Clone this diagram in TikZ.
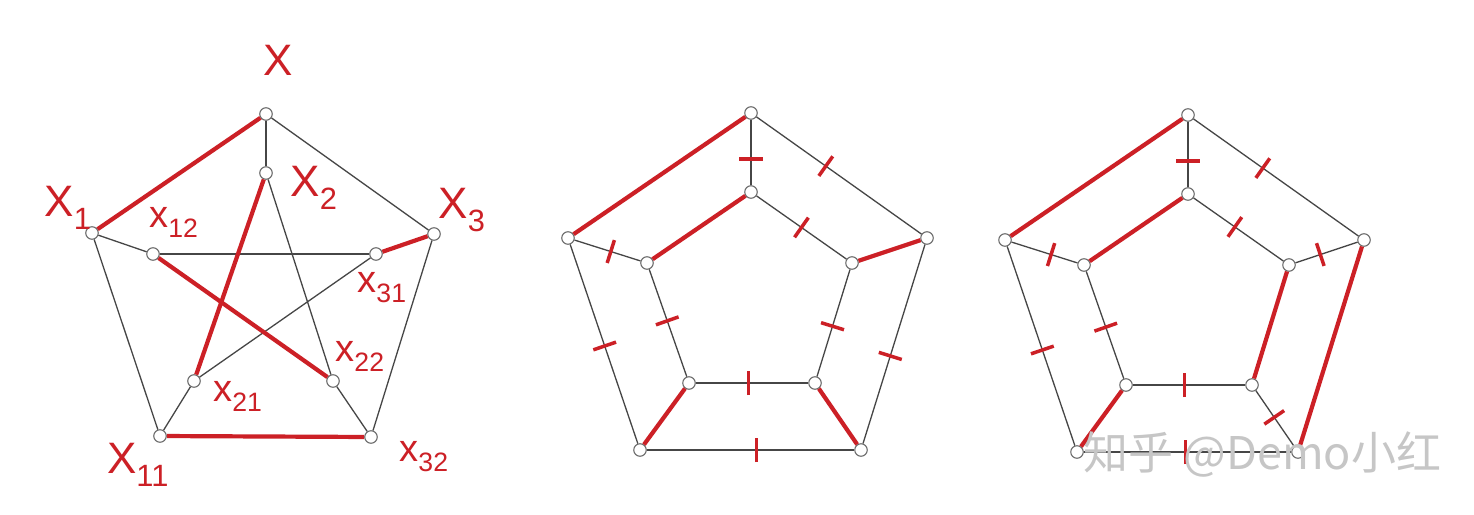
\documentclass[tikz,border=0pt]{standalone}
\usepackage{fontspec}
\setsansfont{Liberation Sans}
\newfontfamily\cjk{Noto Sans CJK SC}
\usetikzlibrary{decorations.markings}
\definecolor{hand}{RGB}{204,32,38}
\definecolor{edge}{RGB}{70,70,70}

\begin{document}
\begin{tikzpicture}[x=1pt, y=-1pt,
  vtx/.style={circle, draw=edge!80, fill=white, line width=1.1pt, minimum size=12.5pt, inner sep=0pt},
  blk/.style={draw=edge, line width=1.3pt},
  hit/.style={draw=hand, line width=4.2pt},
  ticked/.style={postaction={decorate, decoration={markings,
    mark=at position #1 with {\draw[hand, line width=3.5pt] (0,-12pt) -- (0,12pt);}}}},
  ticked/.default=0.5,
  lab/.style={text=hand, font=\sffamily\fontsize{44}{46}\selectfont},
  sublab/.style={text=hand, font=\sffamily\fontsize{38}{40}\selectfont}]
 \fill[white] (0,0) rectangle (1474,514);
 \useasboundingbox (0,0) rectangle (1474,514);
 \foreach \n/\x/\y in {X/266/114, X1/92/233, X3/434/234, X11/160/436, X32/371/437,
   X2/266/173, X12/153/254, X31/376/254, X21/194/381, X22/333/381}
   \node[vtx] (\n) at (\x,\y) {};
 \foreach \a/\b in {X/X3, X1/X11, X3/X32, X/X2, X1/X12, X11/X21, X32/X22,
   X2/X22, X12/X31, X21/X31}
   \draw[blk] (\a) -- (\b);
 \foreach \a/\b in {X/X1, X3/X31, X11/X32, X2/X21, X12/X22}
   \draw[hit] (\a) -- (\b);
 \node[lab] (lX) at (278,60) {X};
 \node[lab] (lX1) at (68,208) {X\textsubscript{1}};
 \node[lab] (lX2) at (314,188) {X\textsubscript{2}};
 \node[lab] (lX3) at (462,210) {X\textsubscript{3}};
 \node[lab] (lX11) at (138,465) {X\textsubscript{11}};
 \node[sublab] (lX12) at (174,222) {x\textsubscript{12}};
 \node[sublab] (lX31) at (382,288) {x\textsubscript{31}};
 \node[sublab] (lX22) at (360,356) {x\textsubscript{22}};
 \node[sublab] (lX21) at (238,396) {x\textsubscript{21}};
 \node[sublab] (lX32) at (424,457) {x\textsubscript{32}};
 \foreach \g/\dx/\dy in {p/0/0, q/437/2}
   \foreach \n/\x/\y in {o1/751/113, o2/927/238, o3/861/450, o4/640/450, o5/568/238,
     i1/751/192, i2/852/263, i3/815/383, i4/689/383, i5/647/263}
     \node[vtx] (\g\n) at ({\x+\dx},{\y+\dy}) {};
 \foreach \a/\b/\t in {o1/i1/0.6, o1/o2/0.42, i1/i2/0.5, o5/i5/0.55, i5/i4/0.48,
   o5/o4/0.51, i4/i3/0.47, o4/o3/0.53, i2/i3/0.53, o2/o3/0.56}
   \draw[blk, ticked=\t] (p\a) -- (p\b);
 \foreach \a/\b in {o1/o5, i1/i5, i2/o2, i4/o4, i3/o3}
   \draw[hit] (p\a) -- (p\b);
 \foreach \a/\b/\t in {o1/i1/0.6, o1/o2/0.42, i1/i2/0.46, o5/i5/0.6, o5/o4/0.52,
   i5/i4/0.52, i4/i3/0.46, o2/i2/0.6, i3/o3/0.48, o4/o3/0.49}
   \draw[blk, ticked=\t] (q\a) -- (q\b);
 \foreach \a/\b in {o1/o5, i1/i5, i4/o4, i2/i3, o2/o3}
   \draw[hit] (q\a) -- (q\b);
 \node[text=gray!45, font=\cjk\fontsize{45}{45}\selectfont, anchor=west] (wm) at (1080,454) {知乎 @Demo小红};
\end{tikzpicture}
\end{document}
